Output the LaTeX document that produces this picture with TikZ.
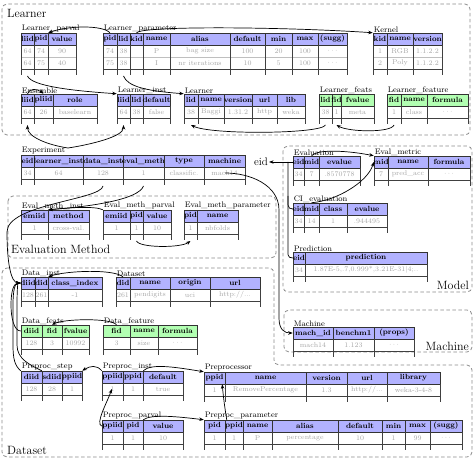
\documentclass[tikz,border=0pt]{standalone}
\usepackage{tikz}
\usetikzlibrary{positioning}
\usetikzlibrary{arrows.meta}

\definecolor{hdblue}{RGB}{178,178,255}
\definecolor{hdgreen}{RGB}{178,255,178}

\tikzset{
  tabtitle/.style={anchor=south west, inner sep=0.6pt, font=\fontsize{8}{8}\selectfont},
  hdcell/.style={draw=black!80, line width=0.5pt, minimum height=12pt, inner sep=0pt,
    font=\fontsize{7.5}{7.5}\selectfont\bfseries},
  datcell/.style={minimum height=12pt, inner sep=0pt, text=black!35,
    font=\fontsize{7}{7}\selectfont},
  tabline/.style={draw=black!75, line width=0.6pt},
  rowline/.style={draw=black!25, line width=0.4pt},
  grp/.style={draw=black!45, dash pattern=on 3.5pt off 2.5pt, line width=0.8pt, rounded corners=5pt},
  grplabel/.style={inner sep=0pt, font=\fontsize{12}{12}\selectfont},
  link/.style={draw=black, line width=0.7pt, -{Stealth[length=4.5pt,width=3.5pt]}},
  bus/.style={draw=black, line width=0.7pt},
}

% table: id, x, y (top), title, header colour, rows, columns xleft/xright/header/row1/row2
\newcommand{\dbtable}[7]{%
  \node[tabtitle] (#1-t) at (#2,#3) {#4};
  \foreach \xa/\xb/\hname/\vone/\vtwo [count=\i] in {#7} {
    \pgfmathsetmacro{\cw}{\xb-\xa}
    \pgfmathsetmacro{\cx}{(\xa+\xb)/2}
    \pgfmathsetmacro{\yb}{#3+12+12*#6}
    \node[hdcell, fill=#5, minimum width=\cw pt] (#1-\i) at ({\cx},{#3+6}) {\makebox[0pt]{\hname}};
    \node[datcell] (#1-\i-a) at ({\cx},{#3+18}) {\makebox[0pt]{\vone}};
    \ifnum#6>1
      \node[datcell] (#1-\i-b) at ({\cx},{#3+30}) {\makebox[0pt]{\vtwo}};
      \draw[rowline] (\xa,{#3+24}) -- (\xb,{#3+24});
    \fi
    \draw[tabline] (\xa,\yb) -- (\xb,\yb);
    \draw[tabline] (\xa,{#3+12}) -- (\xa,{\yb+6});
    \draw[tabline] (\xb,{#3+12}) -- (\xb,{\yb+6});
    \coordinate (#1-\i-f) at ({\cx},{\yb+7});
  }
}

\begin{document}
\begin{tikzpicture}[x=1pt, y=-1pt]
    \useasboundingbox (0,0) rectangle (474,462);

    % Groups
    \draw[grp] (2,4) rectangle (470,135);
    \draw[grp] (8,196) rectangle (276,258);
    \draw[grp] (283,146) rectangle (472,292);
    \draw[grp] (284,310) rectangle (472,352);
    \draw[grp] (2,268) -- (274,268) -- (274,365) -- (472,365) -- (472,457) -- (2,457) -- cycle;
    \node[grplabel, anchor=west] (g-learner) at (7,13) {Learner};
    \node[grplabel, anchor=west] (g-evalmeth) at (11,249) {Evaluation Method};
    \node[grplabel, anchor=south east] (g-model) at (469,290) {Model};
    \node[grplabel, anchor=south east] (g-machine) at (469,351) {Machine};
    \node[grplabel, anchor=south west] (g-dataset) at (7,455) {Dataset};

    % Learner
    \dbtable{lpv}{21}{33}{Learner\_parval}{hdblue}{2}{21/34/liid/64/64, 34/48/pid/74/75, 48/76/value/90/40}
    \dbtable{lpm}{103}{33}{Learner\_parameter}{hdblue}{2}{103/117/pid/74/75, 117/130/lid/38/38,
      130/143/kid//, 143/170/name/P/I, 170/230/alias/bag size/nr iterations, 230/265/default/100/10,
      265/292/min/20/5, 292/318/max/100/100, 318/347/(sugg)/$\cdots$/$\cdots$}
    \dbtable{kn}{373}{33}{Kernel}{hdblue}{2}{373/387/kid/1/2, 387/413/name/RGB/Poly, 413/442/version/1.1.2.2/1.1.2.2}
    \dbtable{ens}{21}{94}{Ensemble}{hdblue}{1}{21/34/liid/64/, 34/53/pliid/26/, 53/97/role/baselearn/}
    \dbtable{lin}{117}{94}{Learner\_inst}{hdblue}{1}{117/130/liid/64/, 130/143/lid/38/, 143/170/default/false/}
    \dbtable{lrn}{184}{94}{Learner}{hdblue}{1}{184/198/lid/38/, 198/224/name/Baggi/, 224/252/version/1.31.2/,
      252/277/url/http/, 277/305/lib/weka/}
    \dbtable{lfs}{319}{94}{Learner\_feats}{hdgreen}{1}{319/332/lid/38/, 332/341/fid/1/, 341/374/fvalue/meta/}
    \dbtable{lft}{387}{94}{Learner\_feature}{hdgreen}{1}{387/401/fid/1/, 401/427/name/class/, 427/468/formula/$\cdots$/}

    % Experiment and evaluation method
    \dbtable{exp}{21}{155}{Experiment}{hdblue}{1}{21/34/eid/34/, 34/83/learner\_inst/64/, 83/123/data\_inst/128/,
      123/164/eval\_meth/1/, 164/204/type/classific./, 204/245/machine/mach14/}
    \dbtable{emi}{21}{210}{Eval\_meth\_inst}{hdblue}{1}{21/48/emiid/1/, 48/89/method/cross-val./}
    \dbtable{emv}{103}{210}{Eval\_meth\_parval}{hdblue}{1}{103/130/emiid/1/, 130/143/pid/1/, 143/171/value/10/}
    \dbtable{emp}{184}{210}{Eval\_meth\_parameter}{hdblue}{1}{184/197/pid/1/, 197/238/name/nbfolds/}

    % Model and machine
    \dbtable{evl}{293}{156}{Evaluation}{hdblue}{1}{293/304/eid/34/, 304/319/mid/7/, 319/360/evalue/.8570778/}
    \dbtable{emt}{374}{156}{Eval\_metric}{hdblue}{1}{374/388/mid/7/, 388/428/name/pred\_acc/, 428/470/formula/$\cdots$/}
    \dbtable{cie}{293}{203}{CI\_evaluation}{hdblue}{1}{293/304/eid/34/, 304/319/mid/14/, 319/347/class/1/, 347/387/evalue/.944495/}
    \dbtable{prd}{293}{252}{Prediction}{hdblue}{1}{293/305/eid/34/, 305/427/prediction/{1.87E-5,.7,0.999*,3.21E-31|4;..}/}
    \dbtable{mch}{293}{327}{Machine}{hdblue}{1}{293/333/mach\_id/mach14/, 333/374/benchm1/1.123/, 374/414/(props)/$\cdots$/}
    \node[font=\fontsize{11}{11}\selectfont, inner sep=1pt] (eidl) at (261,162) {eid};

    % Dataset
    \dbtable{din}{21}{277}{Data\_inst}{hdblue}{1}{21/35/diid/128/, 35/48/did/261/, 48/102/class\_index/-1/}
    \dbtable{dst}{116}{277}{Dataset}{hdblue}{1}{116/130/did/261/, 130/170/name/pendigits/, 170/210/origin/uci/,
      210/260/url/{http://...}/}
    \dbtable{dfs}{21}{325}{Data\_feats}{hdgreen}{1}{21/42/diid/128/, 42/62/fid/3/, 62/89/fvalue/10992/}
    \dbtable{dft}{103}{325}{Data\_feature}{hdgreen}{1}{103/130/fid/3/, 130/158/name/size/, 158/197/formula/$\cdots$/}
    \dbtable{pst}{21}{371}{Preproc\_step}{hdblue}{1}{21/42/diid/128/, 42/62/sdiid/28/, 62/82/ppiid/1/}
    \dbtable{pin}{102}{371}{Preproc\_inst}{hdblue}{1}{102/123/ppiid/1/, 123/143/ppid/1/, 143/183/default/true/}
    \dbtable{ppr}{204}{372}{Preprocessor}{hdblue}{1}{204/225/ppid/1/, 225/306/name/RemovePercentage/,
      306/347/version/1.3/, 347/387/url/{http://...}/, 387/440/library/weka-3-4-8/}
    \dbtable{ppv}{102}{420}{Preproc\_parval}{hdblue}{1}{102/123/ppiid/1/, 123/143/pid/1/, 143/183/value/10/}
    \dbtable{ppm}{204}{420}{Preproc\_parameter}{hdblue}{1}{204/225/pid/1/, 225/243/ppid/1/, 243/272/name/P/,
      272/338/alias/percentage/, 338/382/default/10/, 382/405/min/1/, 405/430/max/99/, 430/462/(sugg)/$\cdots$/}

    % Edges (learner)
    \draw[link] (lpm-1.north) .. controls +(-8,-8) and +(20,-7) .. (lpv-2.north east);
    \draw[link] (lpm-3.north) .. controls +(6,-7) and +(-90,-6) .. (kn-1.north west);
    \draw[link] (lpv-1-f) .. controls +(4,10) and +(-45,-3) .. (lin-1.north west);
    \draw[link] (lpm-2-f) .. controls +(4,10) and +(-40,-3) .. (lrn-1.north west);
    \draw[link] (ens-1.north) .. controls +(2,-6) and +(-6,-5) .. (ens-2.north);
    \draw[link] (lfs-1-f) .. controls +(-4,9) and +(20,10) .. (lrn-1-f);
    \draw[link] (lft-1-f) .. controls +(-3,8) and +(12,7) .. (lfs-2-f);
    \coordinate (lisplit) at (68,148);
    \draw[link] (lisplit) .. controls +(-20,-3) and +(0,12) .. (ens-1-f);
    \draw[link] (lisplit) .. controls +(20,-3) and +(0,12) .. (lin-1-f);

    % Edges (evaluation method)
    \draw[link] (exp-4-f) .. controls +(-5,14) and +(40,-3) .. (emi-1.north east);
    \draw[link] (emv-1.north west) .. controls +(-8,-4) and +(20,-2) .. (emi-1.north east);
    \draw[link] (emv-2-f) .. controls +(3,7) and +(-10,7) .. (emp-1-f);

    % Edges (model, machine)
    \draw[link] (evl-1.west) -- (eidl.east);
    \draw[bus] (cie-1.west) .. controls +(-6,0) and +(0,8) .. (288,196) -- (288,162);
    \draw[bus] (prd-1.west) .. controls +(-6,0) and +(0,8) .. (288,246) -- (288,196);
    \draw[link] (evl-2.north) .. controls +(6,-7) and +(-25,-5) .. (emt-1.north west);
    \draw[link] (cie-2.north) .. controls +(25,-2) and +(-6,20) .. (emt-1.west);
    \draw[link] (exp-6-a.east) .. controls +(25,0) and +(0,-25) .. (279,210) -- (279,318)
      .. controls +(0,12) and +(-8,0) .. (mch-1.west);

    % Edges (dataset)
    \draw[link] (exp-3-f) .. controls +(-2,14) and +(0,-28) .. (7,232)
      .. controls +(0,30) and +(-10,0) .. (din-1.west);
    \draw[link] (dst-1.north) .. controls +(-10,-8) and +(18,-6) .. (din-2.north east);
    \draw[link] (dft-1.north) .. controls +(-6,-7) and +(12,-6) .. (dfs-2.north);
    \draw[link] (dfs-1.west) .. controls +(-7,0) and +(0,12) .. (11,305)
      .. controls +(0,-14) and +(-7,0) .. (din-1.west);
    \draw[link] (pst-1.north west) .. controls +(-6,-5) and +(0,14) .. (13,345) -- (13,305)
      .. controls +(0,-14) and +(-6,0) .. (din-1.west);
    \draw[link] (pst-2.north west) .. controls +(-12,-6) and +(0,14) .. (17,345) -- (17,305)
      .. controls +(0,-14) and +(-3,0) .. (din-1.west);
    \draw[link] (pin-1.north west) .. controls +(-5,-6) and +(8,-5) .. (pst-3.north east);
    \draw[link] (pin-2.north east) .. controls +(8,-8) and +(-25,-4) .. (ppr-1.north west);
    \draw[link] (ppv-1.west) .. controls +(-7,-2) and +(-4,12) .. (pin-1-a.west);
    \draw[link] (ppv-2.north east) .. controls +(8,-6) and +(-25,-3) .. (ppm-1.north west);
    \draw[link] ([xshift=2pt]ppm-2.north west) .. controls +(-2,-12) and +(1,12) .. ([xshift=-3pt]ppr-1.south east);
\end{tikzpicture}
\end{document}
